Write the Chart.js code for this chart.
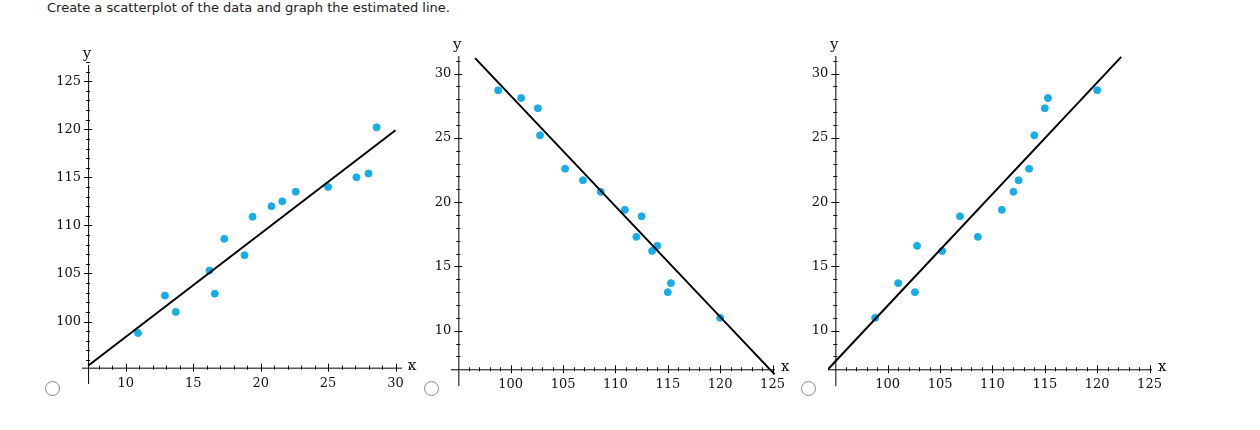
<!DOCTYPE html>
<html>
<head>
<meta charset="utf-8">
<script src="https://cdn.jsdelivr.net/npm/chart.js@4"></script>
<style>
  body { margin: 0; background: #fff; width: 1260px; height: 430px; position: relative; overflow: hidden; }
  .titre { position: absolute; left: 47px; top: 0px; font: 13px "DejaVu Sans", Verdana, sans-serif; color: #222; }
  .radio { position: absolute; width: 13px; height: 13px; border: 1px solid #888; border-radius: 50%; background: #fff; }
  .box { position: absolute; }
</style>
</head>
<body>
<div class="titre">Create a scatterplot of the data and graph the estimated line.</div>
<div class="radio" style="left:45px;top:381px"></div>
<div class="radio" style="left:424px;top:381px"></div>
<div class="radio" style="left:801px;top:381px"></div>
<div class="box" style="left:45px;top:30px;width:380px;height:365px"><canvas id="c1"></canvas></div>
<div class="box" style="left:420px;top:30px;width:390px;height:365px"><canvas id="c2"></canvas></div>
<div class="box" style="left:797px;top:30px;width:390px;height:365px"><canvas id="c3"></canvas></div>
<script>
// données
let x1 = [10.9, 12.9, 13.7, 16.2, 16.6, 17.3, 18.8, 19.4, 20.8, 21.6, 22.6, 25.0, 27.1, 28.0, 28.6];
let y1 = [98.8, 102.7, 101.0, 105.3, 102.9, 108.6, 106.9, 110.9, 112.0, 112.5, 113.5, 114.0, 115.0, 115.4, 120.2];
let ligne1 = [[7.2, 95.4], [30, 119.9]];
let xTicks1 = [10, 15, 20, 25, 30];
let yTicks1 = [100, 105, 110, 115, 120, 125];

let x2 = [98.8, 101.0, 102.6, 102.8, 105.2, 106.9, 108.6, 110.9, 112.0, 112.5, 113.5, 114.0, 115.0, 115.3, 120.0];
let y2 = [28.7, 28.1, 27.3, 25.2, 22.6, 21.7, 20.8, 19.4, 17.3, 18.9, 16.2, 16.6, 13.0, 13.7, 11.0];
let ligne2 = [[96.6, 31.2], [125.2, 6.6]];

let x3 = [98.8, 101.0, 102.6, 102.8, 105.2, 106.9, 108.6, 110.9, 112.0, 112.5, 113.5, 114.0, 115.0, 115.3, 120.0];
let y3 = [11.0, 13.7, 13.0, 16.6, 16.2, 18.9, 17.3, 19.4, 20.8, 21.7, 22.6, 25.2, 27.3, 28.1, 28.7];
let ligne3 = [[94.3, 7.0], [122.3, 31.3]];
let xTicks23 = [100, 105, 110, 115, 120, 125];
let yTicks23 = [10, 15, 20, 25, 30];

let bleu = '#18ade8';
let police = '13px "DejaVu Serif", serif';

// plugin qui dessine les axes croisés, les graduations et les libellés
let axesCroises = {
    id: 'axesCroises',
    afterDraw: function (chart) {
        let o = chart.options.plugins.axesCroises;
        let sx = chart.scales.x, sy = chart.scales.y;
        let ctx = chart.ctx;
        let px0 = sx.getPixelForValue(o.cx);
        let py0 = sy.getPixelForValue(o.cy);
        ctx.save();
        ctx.strokeStyle = '#000';
        ctx.lineWidth = 1;
        ctx.beginPath();
        ctx.moveTo(sx.left + o.gauche, py0 + 0.5);
        ctx.lineTo(sx.right - o.droite, py0 + 0.5);
        ctx.moveTo(px0 + 0.5, sy.top + 3);
        ctx.lineTo(px0 + 0.5, sy.bottom);
        ctx.stroke();
        // graduations mineures
        ctx.beginPath();
        for (let v = Math.ceil(sx.min); v <= sx.max; v++) {
            if (v <= o.cx) continue;
            let p = Math.round(sx.getPixelForValue(v)) + 0.5;
            let l = v % 5 === 0 ? 4 : 2;
            ctx.moveTo(p, py0 - l);
            ctx.lineTo(p, py0 + l);
        }
        for (let v = Math.ceil(sy.min); v <= sy.max; v++) {
            if (v <= o.cy) continue;
            let p = Math.round(sy.getPixelForValue(v)) + 0.5;
            let l = v % 5 === 0 ? 4 : 2;
            ctx.moveTo(px0 - l, p);
            ctx.lineTo(px0 + l, p);
        }
        ctx.stroke();
        ctx.fillStyle = '#111';
        ctx.font = police;
        ctx.textAlign = 'center';
        ctx.textBaseline = 'top';
        o.xt.forEach(function (v) {
            ctx.fillText(String(v), sx.getPixelForValue(v), py0 + 9);
        });
        ctx.textAlign = 'right';
        ctx.textBaseline = 'middle';
        o.yt.forEach(function (v) {
            ctx.fillText(String(v), px0 - 7, sy.getPixelForValue(v));
        });
        ctx.font = '15px "DejaVu Serif", serif';
        ctx.textAlign = 'left';
        ctx.fillText('x', sx.right - o.droite + 6, py0 - 2);
        ctx.textAlign = 'center';
        ctx.textBaseline = 'bottom';
        ctx.fillText('y', px0 - 1, sy.top);
        ctx.restore();
    }
};

function faireGraphique(id, xs, ys, ligne, lim, axes) {
    let pts = xs.map(function (x, i) { return { x: x, y: ys[i] }; });
    return new Chart(document.getElementById(id), {
        type: 'scatter',
        data: {
            datasets: [{
                data: ligne.map(function (p) { return { x: p[0], y: p[1] }; }),
                showLine: true,
                borderColor: '#000',
                borderWidth: 2,
                pointRadius: 0
            }, {
                data: pts,
                backgroundColor: bleu,
                borderColor: bleu,
                pointRadius: 3.5
            }]
        },
        options: {
            responsive: true,
            maintainAspectRatio: false,
            animation: false,
            layout: { padding: lim.pad },
            scales: {
                x: { type: 'linear', display: false, min: lim.xmin, max: lim.xmax },
                y: { type: 'linear', display: false, min: lim.ymin, max: lim.ymax }
            },
            plugins: {
                legend: { display: false },
                tooltip: { enabled: false },
                axesCroises: axes
            }
        },
        plugins: [axesCroises]
    });
}

faireGraphique('c1', x1, y1, ligne1,
    { xmin: 6.6, xmax: 31, ymin: 93.5, ymax: 127, pad: { left: 35, top: 32, right: 16, bottom: 11 } },
    { cx: 7.2, cy: 95.2, xt: xTicks1, yt: yTicks1, gauche: 2, droite: 7 });
faireGraphique('c2', x2, y2, ligne2,
    { xmin: 94.3, xmax: 126, ymin: 5.7, ymax: 31.6, pad: { left: 31, top: 23, right: 27, bottom: 9 } },
    { cx: 95.0, cy: 7.0, xt: xTicks23, yt: yTicks23, gauche: 0, droite: 8 });
faireGraphique('c3', x3, y3, ligne3,
    { xmin: 94.3, xmax: 126, ymin: 5.7, ymax: 31.6, pad: { left: 31, top: 23, right: 27, bottom: 9 } },
    { cx: 95.0, cy: 7.0, xt: xTicks23, yt: yTicks23, gauche: 0, droite: 8 });
</script>
</body>
</html>
